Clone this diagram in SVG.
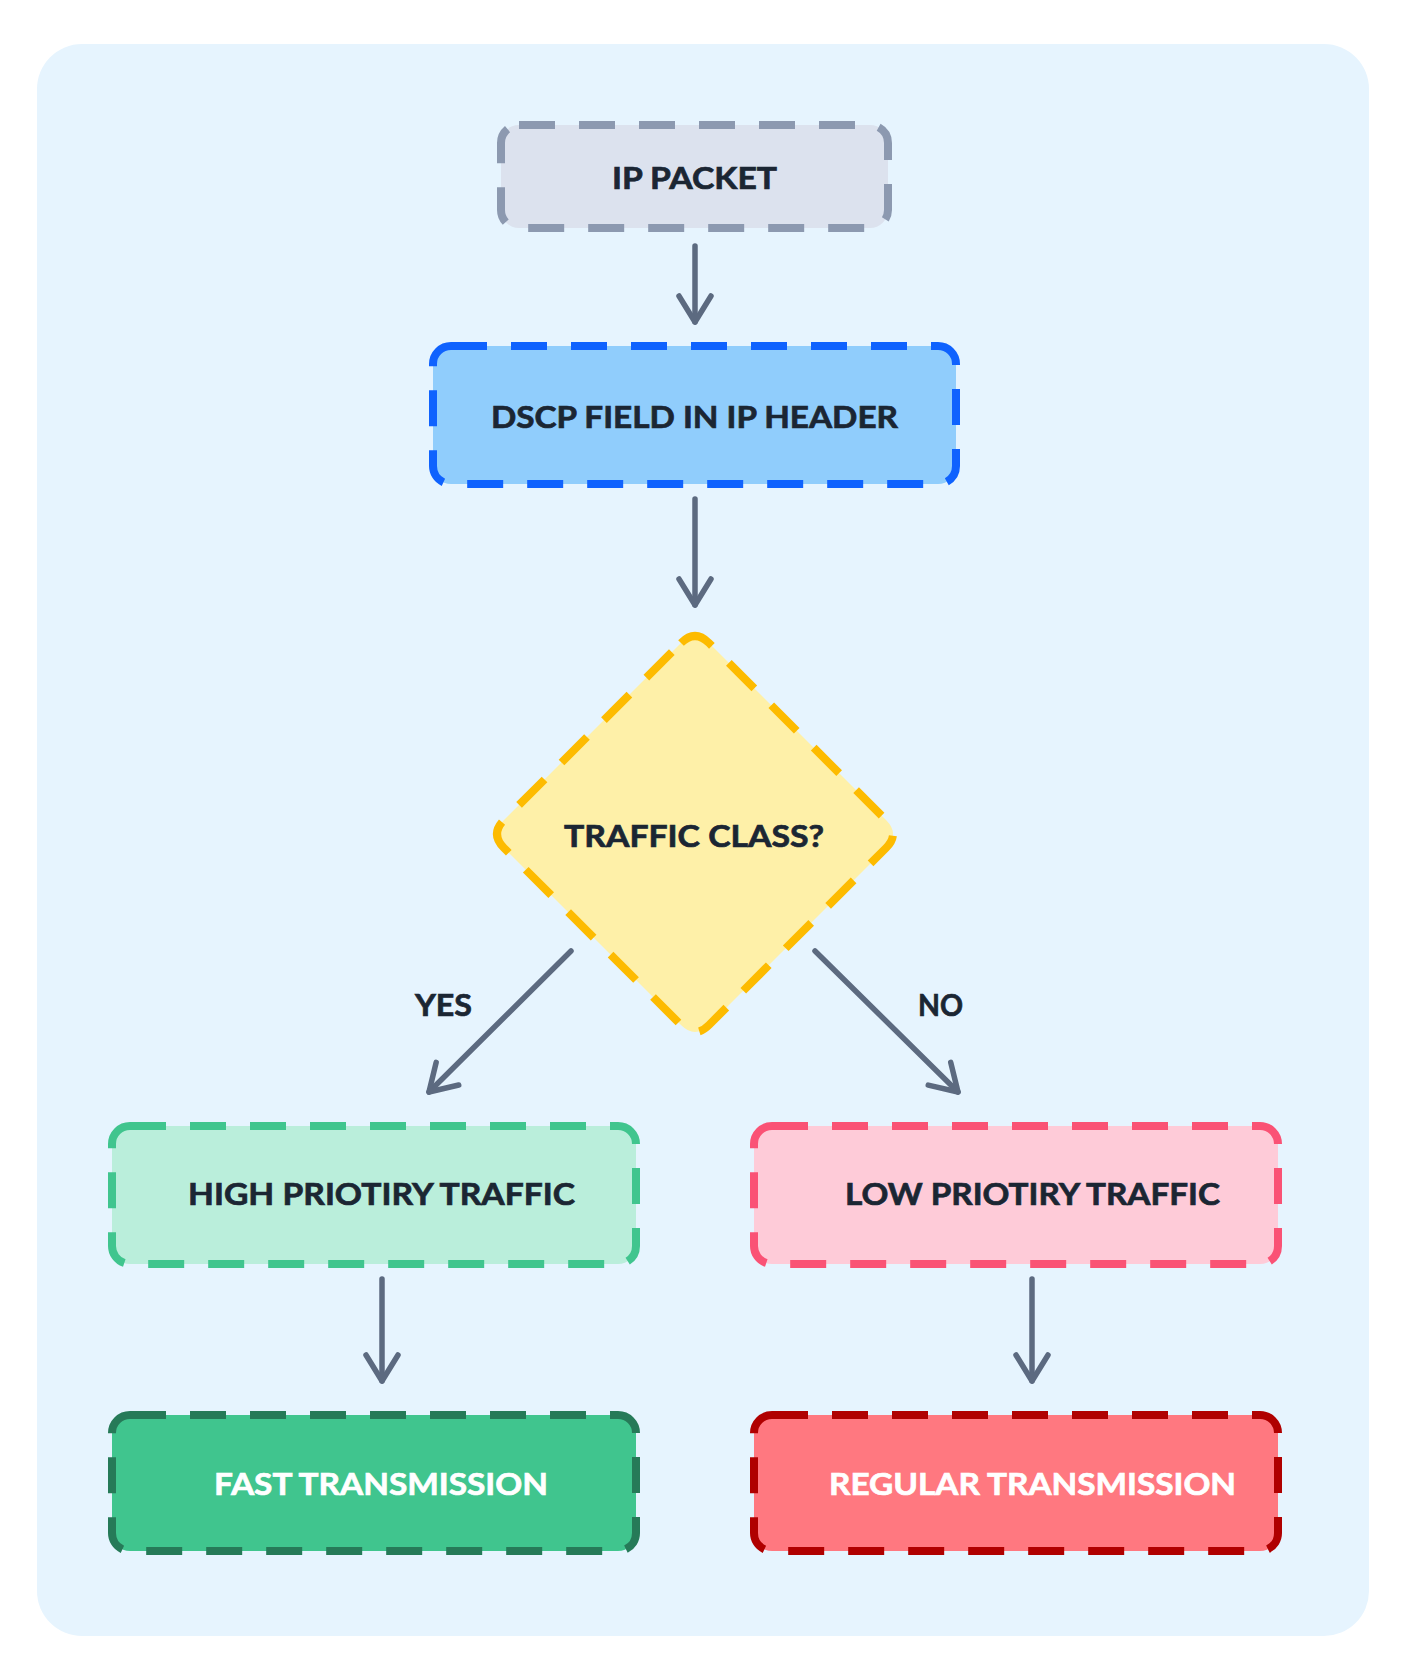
<svg xmlns="http://www.w3.org/2000/svg" width="1406" height="1677" viewBox="0 0 1406 1677">
<style>
.lbl{font-family:Lato,"Noto Sans","Liberation Sans",sans-serif;font-weight:700;font-size:31px;fill:#1B2633;stroke:#1B2633;stroke-width:0.7;text-anchor:middle}
.wht{fill:#FFFFFF;stroke:#FFFFFF}
.box{stroke-width:8;stroke-dasharray:36 24}
.edge{fill:none;stroke:#5C6A80;stroke-width:5.5;stroke-linecap:round;stroke-linejoin:round}
</style>
<defs>
<marker id="ah" markerUnits="userSpaceOnUse" orient="auto" refX="0" refY="0" markerWidth="40" markerHeight="40" overflow="visible">
<path d="M-26,-16 L0,0 L-26,16" fill="none" stroke="#5C6A80" stroke-width="5.5" stroke-linecap="round" stroke-linejoin="round"/>
</marker>
</defs>
<rect x="37" y="44" width="1332" height="1592" rx="45" fill="#E6F4FE"/>
<g id="connectors">
<line class="edge" x1="695" y1="246" x2="695" y2="322" marker-end="url(#ah)"/>
<line class="edge" x1="695" y1="499" x2="695" y2="605" marker-end="url(#ah)"/>
<line class="edge" x1="571" y1="951" x2="429" y2="1092" marker-end="url(#ah)"/>
<line class="edge" x1="815" y1="951" x2="958" y2="1092" marker-end="url(#ah)"/>
<line class="edge" x1="382" y1="1279" x2="382" y2="1381" marker-end="url(#ah)"/>
<line class="edge" x1="1032" y1="1279" x2="1032" y2="1381" marker-end="url(#ah)"/>
<text class="lbl" x="443.5" y="1016" textLength="57" lengthAdjust="spacingAndGlyphs">YES</text>
<text class="lbl" x="940.5" y="1016" textLength="45" lengthAdjust="spacingAndGlyphs">NO</text>
</g>
<g id="ip-packet">
<rect class="box" x="501" y="125" width="387" height="103" rx="18" fill="#DCE2EE" stroke="#8C99B0"/>
<text class="lbl" x="694.5" y="189" textLength="165" lengthAdjust="spacingAndGlyphs">IP PACKET</text>
</g>
<g id="dscp">
<rect class="box" x="433" y="346" width="523" height="138" rx="18" fill="#90CDFC" stroke="#0F62FE"/>
<text class="lbl" x="694.5" y="428" textLength="407" lengthAdjust="spacingAndGlyphs">DSCP FIELD IN IP HEADER</text>
</g>
<g id="traffic-class">
<path class="box" d="M681,643 Q695,629 709,643 L886,820 Q900,834 886,848 L709,1025 Q695,1039 681,1025 L504,848 Q490,834 504,820 Z" fill="#FEF0A8" stroke="#FDBB00"/>
<text class="lbl" x="694" y="847" textLength="260" lengthAdjust="spacingAndGlyphs">TRAFFIC CLASS?</text>
</g>
<g id="high">
<rect class="box" x="112" y="1126" width="524" height="138" rx="18" fill="#BAEEDB" stroke="#40C58E"/>
<text class="lbl" x="381.5" y="1205" textLength="387" lengthAdjust="spacingAndGlyphs">HIGH PRIOTIRY TRAFFIC</text>
</g>
<g id="low">
<rect class="box" x="754" y="1126" width="524" height="138" rx="18" fill="#FECBD8" stroke="#FA5275"/>
<text class="lbl" x="1032.5" y="1205" textLength="375" lengthAdjust="spacingAndGlyphs">LOW PRIOTIRY TRAFFIC</text>
</g>
<g id="fast">
<rect class="box" x="112" y="1415" width="524" height="136" rx="18" fill="#40C58E" stroke="#267A58"/>
<text class="lbl wht" x="381" y="1495" textLength="334" lengthAdjust="spacingAndGlyphs">FAST TRANSMISSION</text>
</g>
<g id="regular">
<rect class="box" x="754" y="1415" width="524" height="136" rx="18" fill="#FF7880" stroke="#B00000"/>
<text class="lbl wht" x="1032.5" y="1495" textLength="407" lengthAdjust="spacingAndGlyphs">REGULAR TRANSMISSION</text>
</g>
</svg>
